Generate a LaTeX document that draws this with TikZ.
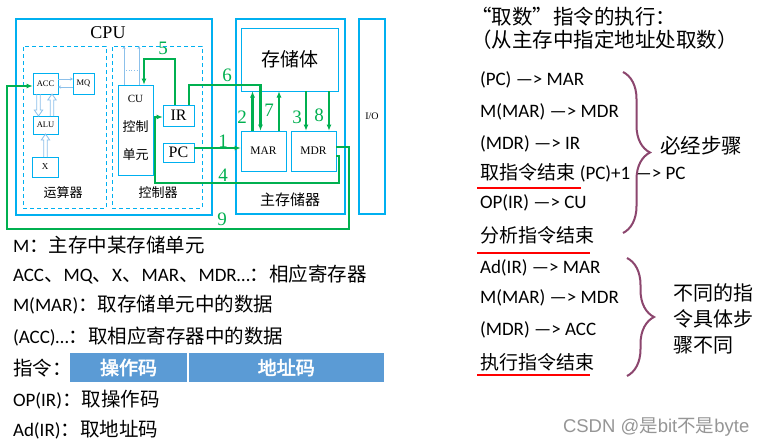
\documentclass[tikz,border=0pt]{standalone}
\usepackage{fontspec}
\setmainfont{Liberation Serif}
\newfontfamily\lat{Carlito}
\newfontfamily\cjk{Noto Sans CJK SC}
\newfontfamily\cjkb[FakeBold=2.5]{Noto Sans CJK SC}
\newfontfamily\wm{Liberation Sans}
\usetikzlibrary{arrows.meta,decorations.pathreplacing,calc}
\definecolor{cyb}{RGB}{0,176,240}
\definecolor{lbl}{RGB}{140,192,234}
\definecolor{grn}{RGB}{0,176,80}
\definecolor{pur}{RGB}{140,70,110}
\definecolor{barb}{RGB}{91,155,213}
\definecolor{wmc}{RGB}{150,150,150}
\newcommand\myfs[1]{\fontsize{#1}{#1}\selectfont}
\newcommand\cj[1]{{\cjk\myfs{19.5}#1}}
\begin{document}
\begin{tikzpicture}[x=1pt,y=-1pt,
  every node/.style={inner sep=0pt,outer sep=0pt},
  bigbox/.style={draw=cyb,line width=2pt},
  dbox/.style={draw=cyb,line width=0.8pt,dash pattern=on 4pt off 3pt},
  reg/.style={draw=cyb,line width=1pt},
  garr/.style={draw=grn,line width=2.4pt,-{Latex[length=6.5pt,width=5pt]}},
  garrt/.style={draw=grn,line width=1.4pt,-{Latex[length=6.5pt,width=5pt]}},
  glab/.style={text=grn,font=\myfs{19}},
  lthin/.style={draw=lbl,line width=0.7pt,-{Stealth[length=3pt,width=3pt]}},
  hol/.style={draw=lbl,line width=0.8pt,line join=miter},
  brc/.style={draw=pur,line width=2pt,decorate,decoration={brace,amplitude=27pt}},
  redl/.style={draw=red,line width=1.5pt},
  txt/.style={anchor=west,font=\myfs{19}},
  ctxt/.style={anchor=west,font=\cjk\myfs{20.5}}
]
\useasboundingbox (0,0) rectangle (767,447);
\fill[white] (0,0) rectangle (767,447);

% ---------- CPU ----------
\node[bigbox,minimum width=196pt,minimum height=196pt] (cpu) at (114,117) {};
\node[font=\myfs{18}] (cpulab) at (108,33) {CPU};
\node[dbox,minimum width=83pt,minimum height=162pt] (calc) at (64.5,127) {};
\node[dbox,minimum width=90pt,minimum height=162pt] (ctrl) at (157,127) {};
\node[font=\cjk\myfs{13}] (calclab) at (63,193) {运算器};
\node[font=\cjk\myfs{13}] (ctrllab) at (158,193) {控制器};

\node[reg,minimum width=25pt,minimum height=21pt,font=\myfs{8.5}] (acc) at (45.5,83.5) {ACC};
\node[reg,minimum width=21pt,minimum height=21pt,font=\myfs{8.5}] (mq) at (83.5,83.5) {MQ};
\node[reg,minimum width=25pt,minimum height=18pt,font=\myfs{8.5}] (alu) at (45.5,125) {ALU};
\node[reg,minimum width=26pt,minimum height=20pt,font=\myfs{9}] (xr) at (45,167) {X};

\node[reg,minimum width=35pt,minimum height=90pt] (cu) at (135.5,130) {};
\node[font=\myfs{11}] (culab) at (135.5,99) {CU};
\node[font=\cjk\myfs{13}] (culab2) at (135.5,127) {控制};
\node[font=\cjk\myfs{13}] (culab3) at (135.5,155) {单元};
\node[reg,minimum width=31pt,minimum height=21pt,font=\myfs{16}] (ir) at (178.5,115.5) {IR};
\node[reg,minimum width=31pt,minimum height=19pt,font=\myfs{16}] (pc) at (178.5,152.5) {PC};

% ---------- memory ----------
\node[bigbox,minimum width=109pt,minimum height=195pt] (mem) at (290.5,116.5) {};
\node[reg,minimum width=97pt,minimum height=63pt,font=\cjk\myfs{19}] (store) at (289.5,59.5) {存储体};
\node[reg,minimum width=45pt,minimum height=40pt,font=\myfs{11.5}] (mar) at (263.5,151) {MAR};
\node[reg,minimum width=45pt,minimum height=40pt,font=\myfs{11.5}] (mdr) at (313.5,151) {MDR};
\node[font=\cjk\myfs{15}] (memlab) at (290,200) {主存储器};
\node[bigbox,minimum width=26pt,minimum height=195pt,font=\myfs{10}] (io) at (372,116.5) {I/O};

% ---------- light blue arrows ----------
\coordinate (am1) at ([yshift=4.5pt]acc.east);
\coordinate (am2) at ([yshift=-3.5pt]acc.east);
\draw[lthin] (am1) -- (am1 -| mq.west);
\draw[lthin] (am2 -| mq.west) -- (am2);
\coordinate (h1) at (38.5,0);
\coordinate (h2) at (52,0);
\coordinate (h3) at (45.5,0);
% ACC -> ALU (down)
\draw[hol] let \p1=(acc.south -| h1), \p2=(alu.north -| h1) in
  (\x1-1.8pt,\y1) -- (\x1-1.8pt,\y2+6pt) -- (\x1-4.2pt,\y2+6pt) -- (\x2,\y2)
  -- (\x1+4.2pt,\y2+6pt) -- (\x1+1.8pt,\y2+6pt) -- (\x1+1.8pt,\y1);
% ALU -> ACC (up)
\draw[hol] let \p1=(alu.north -| h2), \p2=(acc.south -| h2) in
  (\x1-1.8pt,\y1) -- (\x1-1.8pt,\y2-6pt) -- (\x1-4.2pt,\y2-6pt) -- (\x2,\y2)
  -- (\x1+4.2pt,\y2-6pt) -- (\x1+1.8pt,\y2-6pt) -- (\x1+1.8pt,\y1);
% X -> ALU (up)
\draw[hol] let \p1=(xr.north -| h3), \p2=(alu.south -| h3) in
  (\x1-1.8pt,\y1) -- (\x1-1.8pt,\y2-6pt) -- (\x1-4.2pt,\y2-6pt) -- (\x2,\y2)
  -- (\x1+4.2pt,\y2-6pt) -- (\x1+1.8pt,\y2-6pt) -- (\x1+1.8pt,\y1);
\coordinate (c1) at (124,0);
\coordinate (c2) at (139,0);
\draw[lthin] (cu.north -| c1) -- (ctrl.north -| c1);
\draw[lthin] (cu.north -| c2) -- (ctrl.north -| c2);
\coordinate (d1) at (126,70.5);
\coordinate (d2) at (137,70.5);
\draw[lbl,line width=0.7pt,dotted] (d1) -- (d2);

% ---------- green connectors ----------
\coordinate (p1) at ([yshift=4.5pt]pc.east);
\draw[garrt,line width=1.8pt] (p1) -- (p1 -| mar.west);
\coordinate (x2) at (252.5,0);
\coordinate (x7) at (279,0);
\coordinate (x3) at (306,0);
\coordinate (x8) at (329,0);
\draw[garr] (mar.north -| x2) -- (store.south -| x2);
\draw[garrt] (mar.north -| x7) -- (store.south -| x7);
\draw[garr] (store.south -| x3) -- (mdr.north -| x3);
\draw[garrt] (store.south -| x8) -- (mdr.north -| x8);
\coordinate (r5a) at (175,59);
\coordinate (r5b) at (144,59);
\draw[garr] (ir.north -| r5a) -- (r5a) -- (r5b) -- (r5b |- cu.north);
\coordinate (r6a) at (189,85);
\coordinate (r6b) at (260.5,85);
\draw[garr] (ir.north -| r6a) -- (r6a) -- (r6b) -- (r6b |- mar.north);
\coordinate (r4a) at (339,183);
\coordinate (r4b) at (155,183);
\draw[garr] ([yshift=-5pt]mdr.east) -| (r4a) -- (r4b) |- ([yshift=-1.5pt]ir.west);
\coordinate (r9a) at (349,229);
\coordinate (r9b) at (7,229);
\draw[garr] ([yshift=4pt]mdr.east) -| (r9a) -- (r9b) |- ([yshift=-2.5pt]acc.west);

\node[glab] (l5) at (163,48) {5};
\node[glab] (l6) at (227,75) {6};
\node[glab] (l2) at (242,117) {2};
\node[glab] (l7) at (269,110) {7};
\node[glab] (l3) at (297,117) {3};
\node[glab] (l8) at (319,115) {8};
\node[glab] (l1) at (223,141) {1};
\node[glab] (l4) at (223,175) {4};
\node[glab] (l9) at (222,219) {9};

% ---------- left notes ----------
\node[txt] (n1) at (13,245) {{\lat M}\cj{：主存中某存储单元}};
\node[txt] (n2) at (13,274) {{\lat ACC}\cj{、}{\lat MQ}\cj{、}{\lat X}\cj{、}{\lat MAR}\cj{、}{\lat MDR…}\cj{：相应寄存器}};
\node[txt] (n3) at (13,305) {{\lat M(MAR)}\cj{：取存储单元中的数据}};
\node[txt] (n4) at (13,337) {{\lat (ACC)…}\cj{：取相应寄存器中的数据}};
\node[txt] (n5) at (13,368) {\cj{指令：}};
\node[fill=barb,minimum width=117pt,minimum height=29pt,text=white,font=\cjkb\myfs{19}] (opf) at (128.5,367.5) {操作码};
\node[fill=barb,minimum width=195.5pt,minimum height=29pt,text=white,font=\cjkb\myfs{19}] (adf) at (286.25,367.5) {地址码};
\node[txt] (n6) at (13,400) {{\lat OP(IR)}\cj{：取操作码}};
\node[txt] (n7) at (13,430) {{\lat Ad(IR)}\cj{：取地址码}};

% ---------- right side ----------
\node[ctxt] (t1) at (471,17) {“取数”指令的执行：};
\node[ctxt] (t2) at (471,40) {（从主存中指定地址处取数）};

\node[txt] (s1) at (480,80) {\lat (PC) —> MAR};
\node[txt] (s2) at (480,112) {\lat M(MAR) —> MDR};
\node[txt] (s3) at (480,144) {\lat (MDR) —> IR};
\node[txt] (s4) at (480,173) {{\cjk\myfs{19}取指令结束} {\lat (PC)+1 —> PC}};
\node[txt] (s5) at (480,203) {\lat OP(IR) —> CU};
\node[txt] (s6) at (480,235) {\cjk\myfs{19}分析指令结束};
\coordinate (u1a) at (477,188); \coordinate (u1b) at (581,188);
\draw[redl] (u1a) -- (u1b);
\coordinate (u2a) at (477,253); \coordinate (u2b) at (590,253);
\draw[redl] (u2a) -- (u2b);

\coordinate (b1t) at (623,72);
\coordinate (b1b) at (623,233);
\draw[brc] (b1t) -- (b1b);
\node[ctxt] (g1) at (660,146) {必经步骤};

\node[txt] (e1) at (480,268) {\lat Ad(IR) —> MAR};
\node[txt] (e2) at (480,298) {\lat M(MAR) —> MDR};
\node[txt] (e3) at (480,330) {\lat (MDR) —> ACC};
\node[txt] (e4) at (480,362) {\cjk\myfs{19}执行指令结束};
\coordinate (u3a) at (477,375); \coordinate (u3b) at (590,375);
\draw[redl] (u3a) -- (u3b);

\coordinate (b2t) at (627,258);
\coordinate (b2b) at (627,376);
\draw[brc] (b2t) -- (b2b);
\node[anchor=west,align=left,font=\cjk\fontsize{20}{26}\selectfont] (g2) at (673,319) {不同的指\\令具体步\\骤不同};

\node[anchor=west,text=wmc,font=\myfs{18.5}] (wm) at (563,427) {{\wm CSDN @}{\cjk 是}{\wm bit}{\cjk 不是}{\wm byte}};
\end{tikzpicture}
\end{document}
